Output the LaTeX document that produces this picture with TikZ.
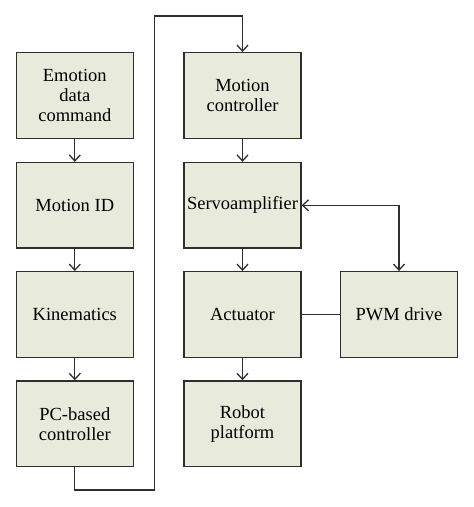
\documentclass[tikz,border=0pt]{standalone}
\usepackage{fontspec}
\newfontfamily\boxfont{Liberation Serif}
\usetikzlibrary{arrows.meta}
\definecolor{boxfill}{HTML}{E8EADB}
\definecolor{linec}{HTML}{2E2E2E}
\begin{document}
\begin{tikzpicture}[x=1pt,y=-1pt,
  blk/.style={draw=linec,line width=1.3pt,fill=boxfill,minimum width=117pt,minimum height=85.6pt,
    inner sep=0pt,align=center,font=\boxfont\fontsize{18.5}{20}\selectfont,text=black},
  conn/.style={draw=linec,line width=1.3pt},
  arr/.style={conn,-{Straight Barb[length=6pt,width=11pt,line width=1.3pt]}}]
\useasboundingbox (0,0) rectangle (474,507);
\node[blk] (emo) at (74.8,95.5) {Emotion\\data\\command};
\node[blk] (mid) at (74.8,205.3) {Motion ID};
\node[blk] (kin) at (74.8,314.5) {Kinematics};
\node[blk] (pc) at (74.8,423.7) {PC-based\\controller};
\node[blk] (mc) at (242.5,95.5) {Motion\\controller};
\node[blk] (servo) at (242.5,205.3) {Servoamplifier};
\node[blk] (act) at (242.5,314.5) {Actuator};
\node[blk] (robot) at (242.5,423.7) {Robot\\platform};
\node[blk] (pwm) at (399,314.5) {PWM drive};
\coordinate (c1) at (74.8,490);
\coordinate (c2) at (154.7,490);
\coordinate (c3) at (154.7,16);
\coordinate (c4) at (242.5,16);
\coordinate (c5) at (399,205.3);
\draw[arr] (emo) -- (mid);
\draw[arr] (mid) -- (kin);
\draw[arr] (kin) -- (pc);
\draw[arr] (pc.south) -- (c1) -- (c2) -- (c3) -- (c4) -- (mc.north);
\draw[arr] (mc) -- (servo);
\draw[arr] (servo) -- (act);
\draw[arr] (act) -- (robot);
\draw[conn,{Straight Barb[length=6pt,width=11pt,line width=1.3pt]}-{Straight Barb[length=6pt,width=11pt,line width=1.3pt]}] (servo.east) -- (c5) -- (pwm.north);
\draw[conn] (act) -- (pwm);
\end{tikzpicture}
\end{document}
